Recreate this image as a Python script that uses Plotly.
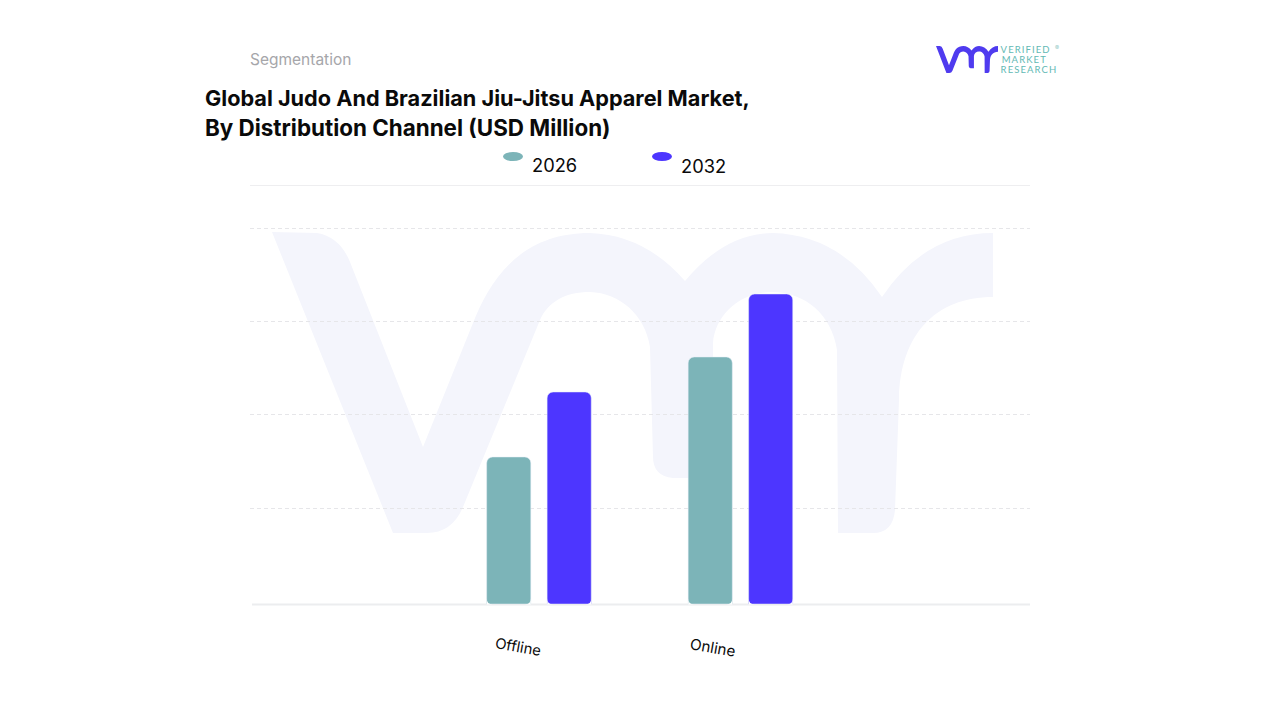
import plotly.graph_objects as go

# chart data
channels = ["Offline", "Online"]
years = ["2026", "2032"]
values_2026 = [147, 247]
values_2032 = [212, 310]
grid_values = [96, 190, 283, 376]

TEAL = "#7CB4B8"
BLUE = "#4D36FF"
WIDTH, HEIGHT = 1280, 720

# outline of the vmr mark in picture pixels
MARK = [
    ("M", 272, 232), ("L", 317, 233), ("Q", 340, 237, 350, 262), ("L", 423, 447), ("L", 473, 323),
    ("C", 490, 280, 520, 233, 590, 233), ("Q", 645, 235, 685, 281), ("Q", 725, 233, 773, 233),
    ("Q", 840, 235, 882, 297), ("Q", 925, 233, 993, 233), ("L", 993, 297), ("C", 935, 297, 900, 335, 899, 400),
    ("L", 895, 510), ("Q", 893, 533, 873, 533), ("L", 838, 533), ("L", 837, 350),
    ("C", 832, 315, 805, 292, 772, 292), ("C", 740, 292, 715, 315, 713, 343), ("L", 713, 478), ("L", 673, 478),
    ("Q", 653, 476, 653, 457), ("L", 650, 347), ("C", 645, 315, 620, 293, 590, 292),
    ("C", 565, 292, 548, 302, 540, 320), ("L", 463, 507), ("Q", 452, 533, 427, 533), ("L", 393, 533),
]


def px_x(x):
    return x / WIDTH


def px_y(y):
    return 1 - y / HEIGHT


def mark_path(scale_x=1.0, scale_y=1.0, shift_x=0.0, shift_y=0.0):
    parts = []
    for seg in MARK:
        nums = []
        for i in range(1, len(seg), 2):
            nums.append(f"{px_x(seg[i] * scale_x + shift_x):.5f},{px_y(seg[i + 1] * scale_y + shift_y):.5f}")
        parts.append(seg[0] + " ".join(nums))
    return " ".join(parts) + " Z"


def label(text, x, y, size, color="#0A0A0A", family="Inter", anchor="left", angle=0):
    fig.add_annotation(
        text=text, x=px_x(x), y=px_y(y), xref="paper", yref="paper", showarrow=False,
        xanchor=anchor, yanchor="middle", textangle=angle,
        font=dict(family=family, size=size, color=color),
    )


def corner_mask(x, direction, y=604.5, r=6):
    # bars only round at the top, so the bottom corners get cut with a white patch
    ax, ay = px_x(x), px_y(y)
    bx, by = px_x(x + direction * r), px_y(y - r)
    cx, cy = px_x(x + direction * r), px_y(y)
    qx, qy = px_x(x), px_y(y)
    return f"M{ax:.5f},{by:.5f} Q{qx:.5f},{qy:.5f} {cx:.5f},{cy:.5f} L{ax:.5f},{ay:.5f} Z"


fig = go.Figure()
fig.add_trace(go.Bar(x=channels, y=values_2026, name=years[0], marker_color=TEAL))
fig.add_trace(go.Bar(x=channels, y=values_2032, name=years[1], marker_color=BLUE))

fig.update_layout(
    width=WIDTH, height=HEIGHT, autosize=False,
    margin=dict(l=0, r=0, t=0, b=0),
    paper_bgcolor="white", plot_bgcolor="rgba(0,0,0,0)",
    showlegend=False, barmode="group", bargap=0.4, bargroupgap=0.27, barcornerradius=6,
)
fig.update_xaxes(
    domain=[px_x(250), px_x(1030)], type="category", range=[-1.434, 2.437],
    showticklabels=False, ticks="", showgrid=False, zeroline=False, showline=False,
)
fig.update_yaxes(
    domain=[px_y(604), px_y(185)], range=[0, 419], tickvals=grid_values,
    showticklabels=False, ticks="", zeroline=False,
    showgrid=True, gridcolor="#E6E6E9", griddash="4px,3px", gridwidth=1,
)

# watermark and logo
fig.add_shape(type="path", path=mark_path(), xref="paper", yref="paper",
              fillcolor="#F4F5FC", line_width=0, layer="below")
fig.add_shape(type="path", path=mark_path(0.086, 0.09, 936 - 272 * 0.086, 46 - 232 * 0.09),
              xref="paper", yref="paper", fillcolor="#4F3BEF", line_width=0, layer="above")

# top rule and baseline
fig.add_shape(type="line", xref="paper", yref="paper", x0=px_x(250), x1=px_x(1030),
              y0=px_y(185.5), y1=px_y(185.5), line=dict(color="#EEEEF0", width=1), layer="below")
fig.add_shape(type="line", xref="paper", yref="paper", x0=px_x(252), x1=px_x(1030),
              y0=px_y(604.5), y1=px_y(604.5), line=dict(color="#ECEDEF", width=2), layer="below")

# bottom corners of the bars
for i in range(len(channels)):
    center = 539 + 201.5 * i
    for side in (-30.25, 30.25):
        fig.add_shape(type="path", path=corner_mask(center + side - 22, 1), xref="paper", yref="paper",
                      fillcolor="white", line_width=0, layer="above")
        fig.add_shape(type="path", path=corner_mask(center + side + 22, -1), xref="paper", yref="paper",
                      fillcolor="white", line_width=0, layer="above")

# legend keys
for cx, color in zip([513, 662], [TEAL, BLUE]):
    fig.add_shape(type="circle", xref="paper", yref="paper", x0=px_x(cx - 10), x1=px_x(cx + 10),
                  y0=px_y(161), y1=px_y(152), fillcolor=color, line_width=0)

label("Segmentation", 248, 59.5, 15.5, color="#A6A6AA")
label("<b>Global Judo And Brazilian Jiu-Jitsu Apparel Market,</b>", 203, 98, 21.7)
label("<b>By Distribution Channel (USD Million)</b>", 203, 127, 22.4)
label(years[0], 530, 165, 18.3)
label(years[1], 679, 166, 18.3)
label(channels[0], 518, 647, 14.8, anchor="center", angle=10)
label(channels[1], 713, 647, 15.2, anchor="center", angle=10)

label("VERIFIED", 1003, 50, 9.5, color="#62B9B4", family="Lato")
label("MARKET", 1003, 59.8, 9.5, color="#62B9B4", family="Lato")
label("RESEARCH", 1003, 69.6, 9.5, color="#62B9B4", family="Lato")
label("®", 1057, 48, 6, color="#8FC9C5", anchor="center")

# the logo wordmark is letter spaced, plotly has no option for that
spacing = """
document.body.style.margin = '0';
document.querySelectorAll('.annotation-text').forEach(function (t) {
  if (['VERIFIED', 'MARKET', 'RESEARCH'].includes(t.textContent)) { t.style.letterSpacing = '1.1px'; }
});
"""
fig.write_html("out.html", post_script=spacing, config={"displayModeBar": False})
